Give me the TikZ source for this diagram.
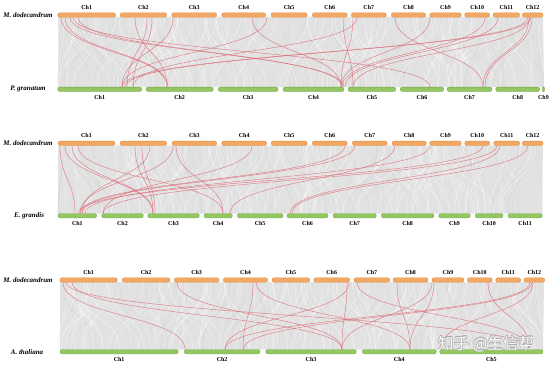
\documentclass[tikz,border=0pt]{standalone}
\usepackage{fontspec}
\setmainfont{Liberation Serif}
\newfontfamily\cjkfont{Noto Sans CJK SC}
\definecolor{obarc}{RGB}{242,168,98}
\definecolor{obard}{RGB}{214,140,72}
\definecolor{gbarc}{RGB}{148,198,98}
\definecolor{gbard}{RGB}{112,166,70}
\definecolor{redl}{RGB}{220,100,112}
\definecolor{bandc}{RGB}{226,226,226}
\tikzset{
  obarst/.style={fill=obarc,draw=obard,line width=0.3pt,rounded corners=2pt},
  gbarst/.style={fill=gbarc,draw=gbard,line width=0.3pt,rounded corners=2pt},
  chlab/.style={font=\bfseries\fontsize{6}{7}\selectfont,inner sep=0pt},
  splab/.style={font=\bfseries\itshape\fontsize{7}{8}\selectfont,inner sep=0pt},
  redlink/.style={draw=redl,line width=0.45pt,opacity=0.8},
  whitelink/.style={draw=white,line width=0.5pt,opacity=0.5},
  greylink/.style={draw=gray!40,line width=0.25pt,opacity=0.45},
  band/.style={fill=bandc}
}
\newcommand\topbar[5]{%
  \path[obarst] ({#1},{#3-2.2}) rectangle ({#2},{#3+2.2});
  \node[chlab] (#5) at ({(#1+#2)/2},{#3-7.8}) {#4};}
\newcommand\botbar[5]{%
  \path[gbarst] ({#1},{#3-2.2}) rectangle ({#2},{#3+2.2});
  \node[chlab] (#5) at ({(#1+#2)/2},{#3+8}) {#4};}
% links: x top, x bottom, y top, y bottom
\newcommand\lnk[5][redlink]{%
  \draw[#1] ({#2},{#4}) .. controls ({#2},{(#4+#5)/2}) and ({#3},{(#4+#5)/2}) .. ({#3},{#5});}
\newcommand\lkA[2]{\lnk{#1}{#2}{17.2}{87.1}}
\newcommand\lkB[2]{\lnk{#1}{#2}{145.5}{213.5}}
\newcommand\lkC[2]{\lnk{#1}{#2}{282.2}{349.5}}
\newcommand\bandtex[2]{%
  \foreach \i in {1,...,110}{%
    \pgfmathsetmacro\ta{58+485*rnd}%
    \pgfmathsetmacro\tb{min(max(\ta+55*rand,58),543)}%
    \lnk[whitelink]{\ta}{\tb}{#1}{#2}}%
  \foreach \i in {1,...,90}{%
    \pgfmathsetmacro\ta{58+485*rnd}%
    \pgfmathsetmacro\tb{min(max(\ta+55*rand,58),543)}%
    \lnk[greylink]{\ta}{\tb}{#1}{#2}}}
\begin{document}
\begin{tikzpicture}[x=1pt,y=-1pt]
\useasboundingbox (0,0) rectangle (553,369);
\pgfmathsetseed{11}
% ---------- grey bands ----------
\fill[band] (58,17) -- (543,17) -- (544,87) -- (58,87) -- cycle;
\bandtex{17.2}{87.1}
\fill[band] (58,145.5) -- (543,145.5) -- (542,213.5) -- (58,213.5) -- cycle;
\bandtex{145.5}{213.5}
\fill[band] (60,282.2) -- (544,282.2) -- (543,349.5) -- (60,349.5) -- cycle;
\bandtex{282.2}{349.5}
% ---------- red links panel 1 ----------
\lkA{61}{167}
\lkA{65}{168}
\lkA{70}{344}
\lkA{78}{342}
\lkA{73}{430}
\lkA{135}{167}
\lkA{147}{127}
\lkA{152}{133}
\lkA{173}{122}
\lkA{252}{341}
\lkA{267}{122}
\lkA{343}{353}
\lkA{353}{341}
\lkA{357}{133}
\lkA{395}{483}
\lkA{430}{341}
\lkA{485}{342}
\lkA{498}{345}
\lkA{528}{122}
\lkA{531}{125}
\lkA{529}{483}
\lkA{532}{485}
\lkA{530}{353}
% ---------- red links panel 2 ----------
\lkB{60}{75}
\lkB{65}{153}
\lkB{72}{153}
\lkB{78}{223}
\lkB{135}{153}
\lkB{142}{155}
\lkB{150}{82}
\lkB{173}{80}
\lkB{176}{223}
\lkB{252}{103}
\lkB{345}{80}
\lkB{355}{82}
\lkB{395}{230}
\lkB{430}{85}
\lkB{483}{78}
\lkB{497}{103}
\lkB{500}{290}
\lkB{528}{292}
% ---------- red links panel 3 ----------
\lkC{63}{185}
\lkC{66}{530}
\lkC{72}{342}
\lkC{177}{342}
\lkC{253}{243}
\lkC{256}{410}
\lkC{347}{342}
\lkC{349}{225}
\lkC{357}{530}
\lkC{397}{410}
\lkC{432}{342}
\lkC{434}{410}
\lkC{488}{530}
\lkC{530}{225}
\lkC{532}{243}
\lkC{533}{440}
% ---------- species labels ----------
\node[splab] (sp1t) at (28,15) {M. dodecandrum};
\node[splab] (sp1b) at (28,89.3) {P. granatum};
\node[splab] (sp2t) at (28,143.3) {M. dodecandrum};
\node[splab] (sp2b) at (29,215.7) {E. grandis};
\node[splab] (sp3t) at (28,280) {M. dodecandrum};
\node[splab] (sp3b) at (27,351.7) {A. thaliana};
% ---------- panel 1 bars ----------
\topbar{57.7}{115.7}{15}{Ch1}{a1}
\topbar{120}{166.7}{15}{Ch2}{a2}
\topbar{171.7}{216.7}{15}{Ch3}{a3}
\topbar{221.7}{265.7}{15}{Ch4}{a4}
\topbar{271}{307.3}{15}{Ch5}{a5}
\topbar{312.3}{347.3}{15}{Ch6}{a6}
\topbar{351.3}{386.3}{15}{Ch7}{a7}
\topbar{391.3}{425.7}{15}{Ch8}{a8}
\topbar{429.7}{461.3}{15}{Ch9}{a9}
\topbar{464.7}{489.7}{15}{Ch10}{a10}
\topbar{493}{519.7}{15}{Ch11}{a11}
\topbar{522.3}{543}{15}{Ch12}{a12}
\botbar{57.7}{141.7}{89.3}{Ch1}{b1}
\botbar{146}{213.3}{89.3}{Ch2}{b2}
\botbar{218.3}{278}{89.3}{Ch3}{b3}
\botbar{283}{344}{89.3}{Ch4}{b4}
\botbar{348}{395.7}{89.3}{Ch5}{b5}
\botbar{400.3}{443.7}{89.3}{Ch6}{b6}
\botbar{447}{492}{89.3}{Ch7}{b7}
\botbar{495.7}{539.7}{89.3}{Ch8}{b8}
\botbar{542.3}{544.6}{89.3}{Ch9}{b9}
% ---------- panel 2 bars ----------
\topbar{58}{115}{143.3}{Ch1}{c1}
\topbar{120}{166.7}{143.3}{Ch2}{c2}
\topbar{172}{216.7}{143.3}{Ch3}{c3}
\topbar{221.7}{266.7}{143.3}{Ch4}{c4}
\topbar{271}{307.3}{143.3}{Ch5}{c5}
\topbar{312.3}{347.3}{143.3}{Ch6}{c6}
\topbar{352.3}{387.3}{143.3}{Ch7}{c7}
\topbar{392}{426.3}{143.3}{Ch8}{c8}
\topbar{429.7}{461.3}{143.3}{Ch9}{c9}
\topbar{464.7}{489.7}{143.3}{Ch10}{c10}
\topbar{493.7}{519.7}{143.3}{Ch11}{c11}
\topbar{522.3}{543}{143.3}{Ch12}{c12}
\botbar{58}{96.7}{215.7}{Ch1}{d1}
\botbar{101.7}{143.3}{215.7}{Ch2}{d2}
\botbar{147.7}{199.3}{215.7}{Ch3}{d3}
\botbar{204}{232.3}{215.7}{Ch4}{d4}
\botbar{237.3}{283}{215.7}{Ch5}{d5}
\botbar{287}{328}{215.7}{Ch6}{d6}
\botbar{333}{376.3}{215.7}{Ch7}{d7}
\botbar{381.3}{434}{215.7}{Ch8}{d8}
\botbar{438.7}{470.3}{215.7}{Ch9}{d9}
\botbar{475.3}{503}{215.7}{Ch10}{d10}
\botbar{508}{542.3}{215.7}{Ch11}{d11}
% ---------- panel 3 bars ----------
\topbar{60}{117.3}{280}{Ch1}{e1}
\topbar{122.3}{170}{280}{Ch2}{e2}
\topbar{174.3}{219}{280}{Ch3}{e3}
\topbar{223.3}{267.7}{280}{Ch4}{e4}
\topbar{272}{309.7}{280}{Ch5}{e5}
\topbar{313.7}{349.7}{280}{Ch6}{e6}
\topbar{354}{389.7}{280}{Ch7}{e7}
\topbar{393}{428}{280}{Ch8}{e8}
\topbar{432}{464}{280}{Ch9}{e9}
\topbar{467.3}{492.3}{280}{Ch10}{e10}
\topbar{495.7}{520.7}{280}{Ch11}{e11}
\topbar{524}{544.7}{280}{Ch12}{e12}
\botbar{60}{178.3}{351.7}{Ch1}{f1}
\botbar{184.3}{260}{351.7}{Ch2}{f2}
\botbar{265.7}{356.3}{351.7}{Ch3}{f3}
\botbar{362.3}{436.3}{351.7}{Ch4}{f4}
\botbar{439.7}{543}{351.7}{Ch5}{f5}
% ---------- watermark ----------
\foreach \dx/\dy [count=\k] in {0.4/0,-0.4/0,0/0.4,0/-0.4,0.3/0.3,-0.3/-0.3,0.3/-0.3,-0.3/0.3}{
  \node[font=\cjkfont\fontsize{15.5}{16}\selectfont,text=gray!65,inner sep=0pt] (wmo\k) at ({486+\dx},{344+\dy}) {知乎 @生信帮};}
\node[font=\cjkfont\fontsize{15.5}{16}\selectfont,text=white,inner sep=0pt] (wm) at (486,344) {知乎 @生信帮};
\end{tikzpicture}
\end{document}
